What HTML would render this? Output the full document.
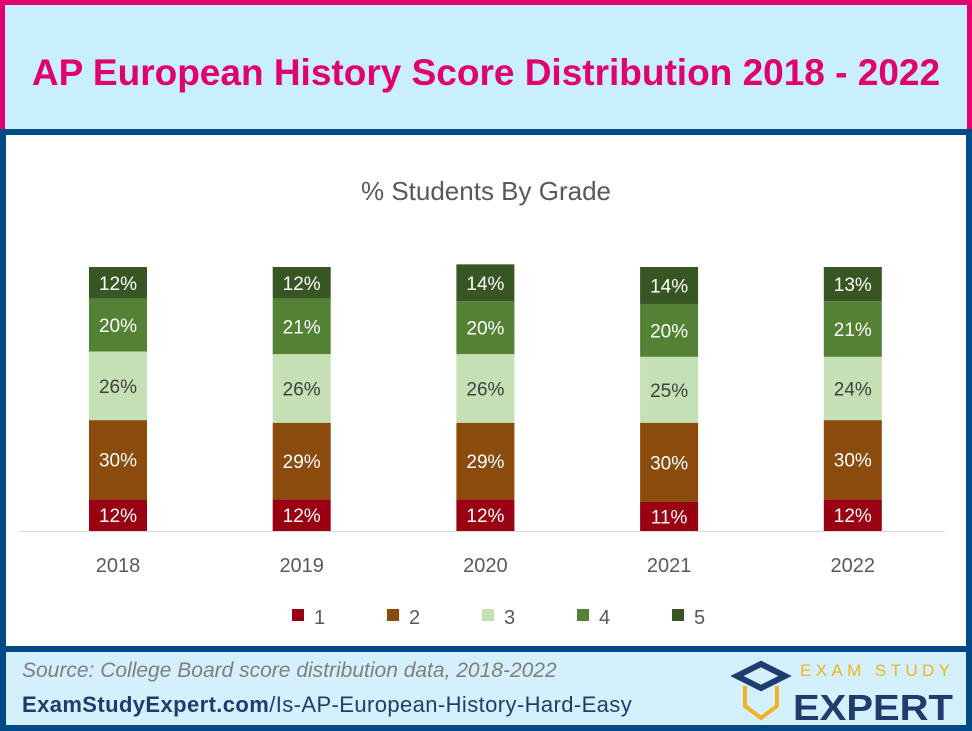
<!DOCTYPE html>
<html><head><meta charset="utf-8"><style>
body{margin:0;width:972px;height:731px;overflow:hidden;font-family:"Liberation Sans",sans-serif;background:#fff}
#hdr{position:absolute;left:0;top:0;width:972px;height:129px;background:#c9eefd;box-sizing:border-box;border:5px solid #e0006f;border-bottom:none}
#hdr div{position:absolute;left:0;right:0;top:47px;text-align:center;color:#e0006f;font-weight:bold;font-size:37px}
#main{position:absolute;left:0;top:129px;width:972px;height:523px;box-sizing:border-box;border:6px solid #004b87;background:#fff}
#ftr{position:absolute;left:0;top:646px;width:972px;height:85px;box-sizing:border-box;border:6px solid #004b87;background:#d3f0fc}
.src{position:absolute;left:16px;top:7px;font-style:italic;color:#7f7f7f;font-size:21px}
.url{position:absolute;left:16px;top:40px;color:#1f3c6e;font-size:22px;letter-spacing:0.4px}
</style></head><body>
<div id="hdr"><div>AP European History Score Distribution 2018 - 2022</div></div>
<div id="main"></div>
<svg id="chart" style="position:absolute;left:0;top:0" width="972" height="646"></svg>
<div id="ftr">
<div class="src">Source: College Board score distribution data, 2018-2022</div>
<div class="url"><b>ExamStudyExpert.com</b>/Is-AP-European-History-Hard-Easy</div>
<svg style="position:absolute;left:725px;top:0px" width="235" height="73">
<polygon points="6,24 30,12 54,24 30,36" fill="none" stroke="#1f3c6e" stroke-width="6"/>
<path d="M14,34 L14,54 L30,66 L46,54 L46,34" fill="none" stroke="#f0b323" stroke-width="4"/>
<text x="144" y="24" text-anchor="middle" font-size="17" fill="#f0b323" textLength="150" lengthAdjust="spacing">EXAM STUDY</text>
<text x="142" y="68" text-anchor="middle" font-size="36" font-weight="bold" fill="#1f3c6e" textLength="160" lengthAdjust="spacingAndGlyphs">EXPERT</text>
</svg>
</div>
<script>
const years=["2018","2019","2020","2021","2022"];
const g1=[12,12,12,11,12];
const g2=[30,29,29,30,30];
const g3=[26,26,26,25,24];
const g4=[20,21,20,20,21];
const g5=[12,12,14,14,13];
const series=[g1,g2,g3,g4,g5];
const grades=["1","2","3","4","5"];
const colors=["#990012","#8a4b0c","#c5e0b4","#548235","#375623"];
const txt=["#fff","#fff","#404040","#fff","#fff"];
const svg=document.getElementById('chart');const NS="http://www.w3.org/2000/svg";
function mk(t,a){const e=document.createElementNS(NS,t);for(const k in a)e.setAttribute(k,a[k]);svg.appendChild(e);return e;}
const base=531,scale=2.64,x0=118,step=183.7,bw=58;
const xs=i=>x0+i*step; const ys=v=>v*scale;
let t=mk('text',{x:486,y:200,'text-anchor':'middle','font-size':26,fill:'#595959'});t.textContent="% Students By Grade";


let ax=mk('line',{x1:20,x2:945,y1:base+0.5,y2:base+0.5,stroke:'#d9d9d9','stroke-width':1});


years.forEach((y,i)=>{
 let acc=0;
 series.forEach((s,k)=>{
  const h=ys(s[i]);const top=base-ys(acc)-h;
  const r=mk('rect',{x:xs(i)-bw/2,y:top,width:bw,height:h,fill:colors[k]});
  
  
  const l=mk('text',{x:xs(i),y:top+h/2+7,'text-anchor':'middle','font-size':19,fill:txt[k]});l.textContent=s[i]+'%';
  
  
  acc+=s[i];
 });
 const yl=mk('text',{x:xs(i),y:572,'text-anchor':'middle','font-size':20,fill:'#595959'});yl.textContent=y;
 
 
});
grades.forEach((g,k)=>{
 const lx=292+k*95;
 const r=mk('rect',{x:lx,y:609,width:12,height:12,fill:colors[k]});
 
 
 const l=mk('text',{x:lx+22,y:624,'font-size':20,fill:'#595959'});l.textContent=g;
 
 
});
</script>
</body></html>
